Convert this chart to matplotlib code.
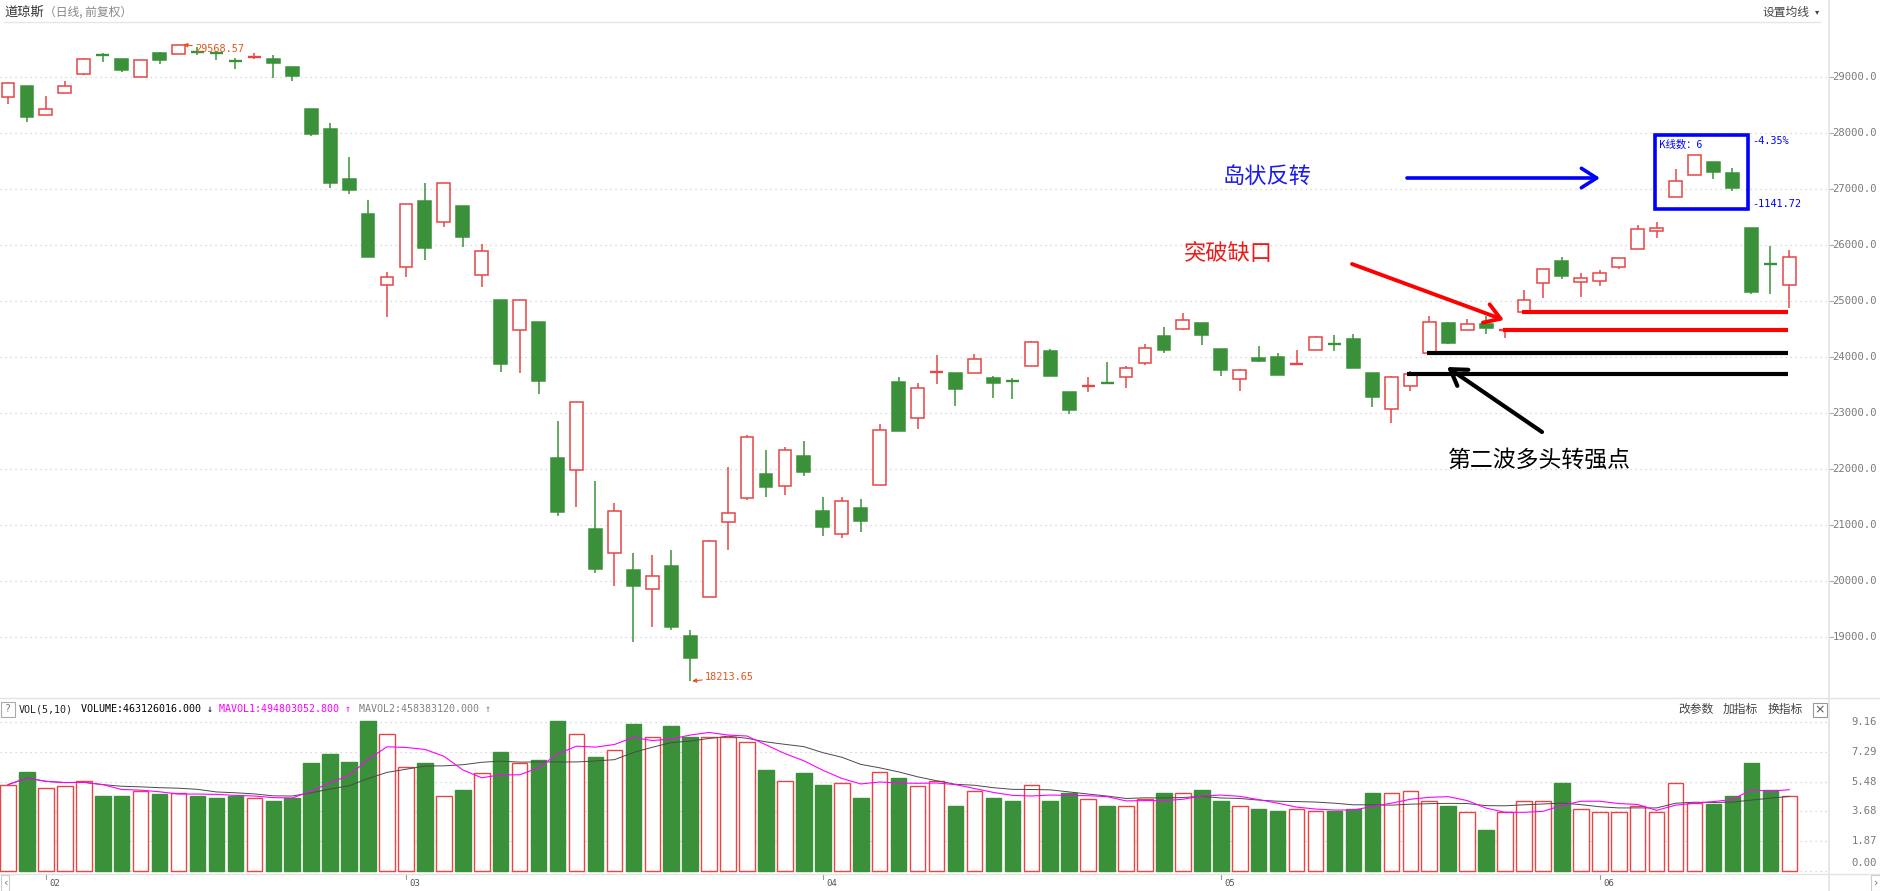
import numpy as np
import pandas as pd
import matplotlib
matplotlib.use("Agg")
import matplotlib.pyplot as plt
from matplotlib.patches import Rectangle, FancyArrowPatch
from matplotlib.lines import Line2D

plt.rcParams['font.family'] = ['Noto Sans CJK SC', 'DejaVu Sans']
MONO = ['DejaVu Sans Mono', 'Noto Sans CJK SC']

# ---- 道琼斯 日线 2020-01-30 ~ 2020-06-15 ----
holidays = ['2020-02-17', '2020-04-10', '2020-05-25']
dates = pd.bdate_range('2020-01-30', '2020-06-15', freq='C', holidays=holidays)

opens = [28643, 28828, 28319, 28713, 29051, 29395, 29312, 28994, 29420, 29406,
         29440, 29440, 29285, 29325, 29312, 29166, 28420, 28064, 27172, 26548,
         25274, 25599, 26777, 26401, 26688, 25465, 25007, 24472, 24612, 22198,
         21975, 20924, 20497, 20198, 19863, 20268, 19018, 19722, 21058, 21478,
         21911, 21689, 22230, 21249, 20835, 21306, 21707, 23548, 22905, 23715,
         23712, 23712, 23623, 23580, 23831, 24110, 23380, 23457, 23540, 23641,
         23884, 24376, 24501, 24607, 24145, 23605, 23985, 24003, 23854, 24121,
         24236, 24323, 23712, 23071, 23474, 24068, 24601, 24477, 24584, 24478,
         24797, 25313, 25711, 25325, 25343, 25598, 25918, 26244, 26843, 27235,
         27466, 27270, 26292, 25669, 25278]
highs = [28892, 28830, 28650, 28917, 29331, 29425, 29312, 29287, 29446, 29568.57,
         29525, 29460, 29338, 29427, 29376, 29166, 28420, 28172, 27561, 26796,
         25510, 26720, 27102, 27108, 26688, 26006, 25007, 25020, 24612, 22854,
         23200, 21784, 21389, 20500, 20465, 20555, 19122, 20730, 22032, 22600,
         22338, 22389, 22497, 21497, 21497, 21466, 22803, 23637, 23535, 24032,
         23712, 24050, 23664, 23629, 24287, 24133, 23380, 23635, 23914, 23842,
         24228, 24530, 24785, 24607, 24145, 23780, 24198, 24068, 24115, 24376,
         24388, 24412, 23712, 23650, 23753, 24732, 24619, 24673, 24732, 24495,
         25195, 25565, 25788, 25491, 25539, 25760, 26351, 26399, 27342, 27591,
         27466, 27359, 26292, 25978, 25906]
lows = [28516, 28191, 28310, 28705, 29032, 29262, 29083, 28990, 29223, 29400,
        29383, 29300, 29140, 29306, 28981, 28924, 27943, 27019, 26911, 25771,
        24701, 25414, 25733, 26306, 25962, 25242, 23733, 23714, 23344, 21166,
        21313, 20141, 19905, 18917, 19177, 19122, 18213.65, 19722, 20561, 21450,
        21491, 21542, 21880, 20810, 20759, 20880, 21707, 22682, 22707, 23522,
        23130, 23712, 23261, 23249, 23831, 23652, 22982, 23368, 23534, 23439,
        23860, 24062, 24483, 24216, 23664, 23386, 23902, 23682, 23854, 24121,
        24097, 23795, 23107, 22822, 23386, 24068, 24228, 24477, 24406, 24335,
        24797, 25046, 25384, 25058, 25254, 25562, 25915, 26114, 26843, 27235,
        27176, 26962, 25118, 25118, 24869]
closes = [28879, 28280, 28414, 28822, 29306, 29385, 29115, 29287, 29293, 29554,
          29423, 29398, 29260, 29363, 29248, 29013, 27981, 27108, 26981, 25784,
          25414, 26720, 25949, 27108, 26140, 25879, 23879, 25019, 23574, 21223,
          23185, 20211, 21242, 19918, 20087, 19174, 18625, 20704, 21211, 22567,
          21669, 22332, 21937, 20969, 21421, 21077, 22688, 22682, 23440, 23730,
          23427, 23961, 23534, 23570, 24264, 23664, 23048, 23499, 23530, 23801,
          24157, 24127, 24661, 24382, 23759, 23771, 23920, 23682, 23890, 24358,
          24224, 23795, 23285, 23641, 23694, 24619, 24246, 24584, 24507, 24488,
          25011, 25562, 25432, 25402, 25491, 25758, 26274, 26292, 27134, 27591,
          27300, 27015, 25147, 25628, 25776]
# 成交量 (亿)
volumes = [5.3, 6.1, 5.1, 5.2, 5.5, 4.6, 4.6, 4.9, 4.7, 4.8,
           4.6, 4.5, 4.6, 4.5, 4.3, 4.5, 6.6, 7.2, 6.7, 9.2,
           8.4, 6.4, 6.6, 4.6, 5.0, 6.0, 7.3, 6.6, 6.8, 9.2,
           8.4, 7.0, 7.4, 9.0, 8.2, 8.9, 8.2, 8.2, 8.2, 7.9,
           6.2, 5.5, 6.0, 5.3, 5.4, 4.5, 6.1, 5.7, 5.2, 5.5,
           4.0, 4.9, 4.5, 4.3, 5.3, 4.3, 4.8, 4.4, 4.0, 4.0,
           4.4, 4.8, 4.8, 5.0, 4.3, 4.0, 3.8, 3.7, 3.8, 3.7,
           3.7, 3.8, 4.8, 4.8, 4.9, 4.3, 4.0, 3.6, 2.5, 3.6,
           4.3, 4.3, 5.4, 3.8, 3.6, 3.6, 4.0, 3.6, 5.4, 4.2,
           4.1, 4.6, 6.6, 5.0, 4.63126016]

price_ticks = [19000, 20000, 21000, 22000, 23000, 24000, 25000, 26000, 27000, 28000, 29000]
vol_ticks = [0.00, 1.87, 3.68, 5.48, 7.29, 9.16]
vol_header = [('VOL(5,10)', '#222222'), ('VOLUME:463126016.000 \u2193', '#000000'),
              ('MAVOL1:494803052.800 \u2191', '#ff00ff'), ('MAVOL2:458383120.000 \u2191', '#808080')]
box_labels = ['K线数：6', '-4.35%', '-1141.72']

RED = '#e84444'
GREEN = '#3a913a'
GRID = '#cfcfcf'

W, H = 1881, 891
X0, DX = 8.0, 18.95            # 第0根K线中心(像素)、K线间距
Y29, PPX = 76.5, 0.05605        # 29000 所在像素、每点像素


def ix(px):  # 像素 -> K线序号
    return (px - X0) / DX


def pr(py):  # 像素 -> 价格
    return 29000 - (py - Y29) / PPX


fig = plt.figure(figsize=(W / 100, H / 100), dpi=100)
fig.patch.set_facecolor('white')


def add_ax(l, t, r, b):
    a = fig.add_axes([l / W, 1 - b / H, (r - l) / W, (b - t) / H])
    a.set_xlim(ix(l), ix(r))
    for s in a.spines.values():
        s.set_visible(False)
    a.set_xticks([]); a.set_yticks([])
    a.patch.set_alpha(0)
    return a


ax = add_ax(0, 22, 1829, 697)
ax.set_ylim(pr(697), pr(22))
vax = add_ax(0, 697, 1829, 873)
vax.set_ylim(-(873 - 871) / 16.3, (871 - 697) / 16.3)
dax = add_ax(0, 874, 1829, 891)
dax.set_ylim(0, 1)

n = len(opens)
idx = np.arange(n)
o, hi, lo, c = map(np.array, (opens, highs, lows, closes))
up = c >= o
bw = 0.68

# grid + right labels
for p in price_ticks:
    ax.axhline(p, color=GRID, lw=0.9, ls=(0, (1, 3)), zorder=0)
    ax.text(1877 / 1829, p, f'{p:.1f}', transform=ax.get_yaxis_transform(), ha='right', va='center',
            fontsize=7.6, family=MONO, color='#7a7a7a', clip_on=False)
    ax.plot([1.0, 1833 / 1829], [p, p], transform=ax.get_yaxis_transform(), color='#b0b0b0', lw=0.8, clip_on=False)
for v in vol_ticks:
    vax.axhline(v, color=GRID, lw=0.9, ls=(0, (1, 3)), zorder=0)
    vax.text(1877 / 1829, v + (0.5 if v == 0 else 0), f'{v:.2f}', transform=vax.get_yaxis_transform(), ha='right',
             va='center', fontsize=7.6, family=MONO, color='#7a7a7a', clip_on=False)

# candles
for i in idx:
    top, bot = max(o[i], c[i]), min(o[i], c[i])
    col = RED if up[i] else GREEN
    if up[i]:
        ax.vlines(i, top, hi[i], color=col, lw=1.1)
        ax.vlines(i, lo[i], bot, color=col, lw=1.1)
    else:
        ax.vlines(i, lo[i], hi[i], color=col, lw=1.1)
    if (top - bot) * PPX < 2.5:
        ax.hlines((top + bot) / 2, i - bw / 2, i + bw / 2, color=col, lw=1.7)
    else:
        ax.add_patch(Rectangle((i - bw / 2, bot), bw, top - bot, facecolor='white' if up[i] else col,
                               edgecolor=col, lw=1.1, zorder=3))

# volume
for i in idx:
    col = RED if up[i] else GREEN
    vax.add_patch(Rectangle((i - 0.41, 0), 0.82, volumes[i], facecolor='white' if up[i] else col,
                            edgecolor=col, lw=1.0))
ma5 = pd.Series(volumes).rolling(5, min_periods=1).mean()
ma10 = pd.Series(volumes).rolling(10, min_periods=1).mean()
vax.plot(idx, ma10, color='#4a4a4a', lw=0.7, zorder=4)
vax.plot(idx, ma5, color='#ff00ff', lw=0.8, zorder=4)

# high / low labels
imax, imin = int(np.argmax(hi)), int(np.argmin(lo))
ax.annotate(f'{hi[imax]:.2f}', xy=(imax + 0.25, hi[imax]), xytext=(ix(195), pr(49)), fontsize=7.4, family=MONO,
            color='#e2571e', va='center', ha='left',
            arrowprops=dict(arrowstyle='-|>', color='#e2571e', lw=0.8, mutation_scale=6, shrinkA=0, shrinkB=0))
ax.annotate(f'{lo[imin]:.2f}', xy=(imin + 0.1, lo[imin]), xytext=(ix(705), pr(677)), fontsize=7.4, family=MONO,
            color='#e2571e', va='center', ha='left',
            arrowprops=dict(arrowstyle='-|>', color='#e2571e', lw=0.8, mutation_scale=6, shrinkA=0, shrinkB=0))

# 区间统计框
ax.add_patch(Rectangle((ix(1655), pr(209)), ix(1748) - ix(1655), pr(135) - pr(209), fill=False,
                       edgecolor='#0000ff', lw=2.6, zorder=6))
ax.text(ix(1659), pr(145), box_labels[0], fontsize=7.4, color='#0000ff', va='center', ha='left', zorder=7)
ax.text(ix(1752), pr(141), box_labels[1], fontsize=7.4, family=MONO, color='#0000ff', va='center', ha='left')
ax.text(ix(1752), pr(204), box_labels[2], fontsize=7.4, family=MONO, color='#0000ff', va='center', ha='left')

# 手绘标注
for (y, x1, col) in [(312, 1522, '#ff0000'), (330, 1503, '#ff0000'), (353, 1427, '#000000'), (374, 1407, '#000000')]:
    ax.plot([ix(x1), ix(1788)], [pr(y), pr(y)], color=col, lw=3.0, solid_capstyle='butt', zorder=5)


def arrow(p0, p1, col, lw):
    ax.add_patch(FancyArrowPatch((ix(p0[0]), pr(p0[1])), (ix(p1[0]), pr(p1[1])),
                                 arrowstyle='->,head_length=0.55,head_width=0.35', mutation_scale=20,
                                 color=col, lw=lw, zorder=6, shrinkA=0, shrinkB=0))


arrow((1407, 178), (1600, 178), '#0000ff', 2.6)
arrow((1352, 264), (1504, 320), '#ff0000', 2.8)
arrow((1542, 432), (1447, 367), '#000000', 3.0)

ax.text(ix(1267), pr(176), '岛状反转', fontsize=16, color='#1a1aee', ha='center', va='center')
ax.text(ix(1228), pr(253), '突破缺口', fontsize=16, color='#ee1a1a', ha='center', va='center')
ax.text(ix(1539), pr(460), '第二波多头转强点', fontsize=16.5, color='#000000', ha='center', va='center')

# date strip
months = pd.Series(dates.month)
first = [i for i in range(1, n) if months[i] != months[i - 1]]
for i in first:
    dax.plot([i, i], [0.7, 1.0], color='#999999', lw=0.8)
    dax.text(i + 0.18, 0.45, f'{dates[i].month:02d}', fontsize=6.5, family=MONO, color='#555555', va='center', ha='left')

# frame lines / header
fig.add_artist(Line2D([1829.5 / W] * 2, [0, 1], color='#e3e3e3', lw=1.2))
fig.add_artist(Line2D([4 / W, 1820 / W], [1 - 21.5 / H] * 2, color='#e6e6e6', lw=1.0))
fig.add_artist(Line2D([0, 1], [1 - 697.5 / H] * 2, color='#e3e3e3', lw=1.0))
fig.add_artist(Line2D([0, 1], [1 - 873.5 / H] * 2, color='#e3e3e3', lw=1.0))

fig.text(4 / W, 1 - 12 / H, '道琼斯', fontsize=9.5, color='#333333', va='center', ha='left')
fig.text(44 / W, 1 - 12 / H, '（日线, 前复权）', fontsize=8.5, color='#888888', va='center', ha='left')
fig.text(1810 / W, 1 - 12 / H, '设置均线', fontsize=8.5, color='#444444', va='center', ha='right')
fig.text(1815 / W, 1 - 12 / H, '\u25be', fontsize=6, color='#444444', va='center', ha='left', family='DejaVu Sans')

# volume header
fig.add_artist(Rectangle((1.5 / W, 1 - 717 / H), 13 / W, 15 / H, fill=False, edgecolor='#aaaaaa', lw=0.8))
fig.text(8 / W, 1 - 709.5 / H, '?', fontsize=7, color='#777777', va='center', ha='center', family=MONO)
xs = [19, 81, 219, 359]
for x, (t, col) in zip(xs, vol_header):
    fig.text(x / W, 1 - 709.5 / H, t, fontsize=7.2, color=col, va='center', ha='left', family=MONO)
for x, t in [(1678, '改参数'), (1723, '加指标'), (1768, '换指标')]:
    fig.text(x / W, 1 - 709 / H, t, fontsize=8.5, color='#444444', va='center', ha='left')
fig.add_artist(Rectangle((1813 / W, 1 - 717 / H), 14 / W, 14 / H, fill=False, edgecolor='#999999', lw=0.8))
fig.text(1820 / W, 1 - 710 / H, '\u00d7', fontsize=9, color='#555555', va='center', ha='center', family='DejaVu Sans')

# nav buttons
fig.add_artist(Rectangle((0.5 / W, 1 - 891 / H), 9 / W, 16 / H, fill=False, edgecolor='#cccccc', lw=0.8))
fig.text(5 / W, 1 - 883 / H, '\u2039', fontsize=8, color='#777777', va='center', ha='center', family='DejaVu Sans')
fig.add_artist(Rectangle((1871 / W, 1 - 891 / H), 9.5 / W, 16 / H, fill=False, edgecolor='#cccccc', lw=0.8))
fig.text(1876 / W, 1 - 883 / H, '\u203a', fontsize=8, color='#777777', va='center', ha='center', family='DejaVu Sans')

fig.savefig('out.png', dpi=100, facecolor='white')
